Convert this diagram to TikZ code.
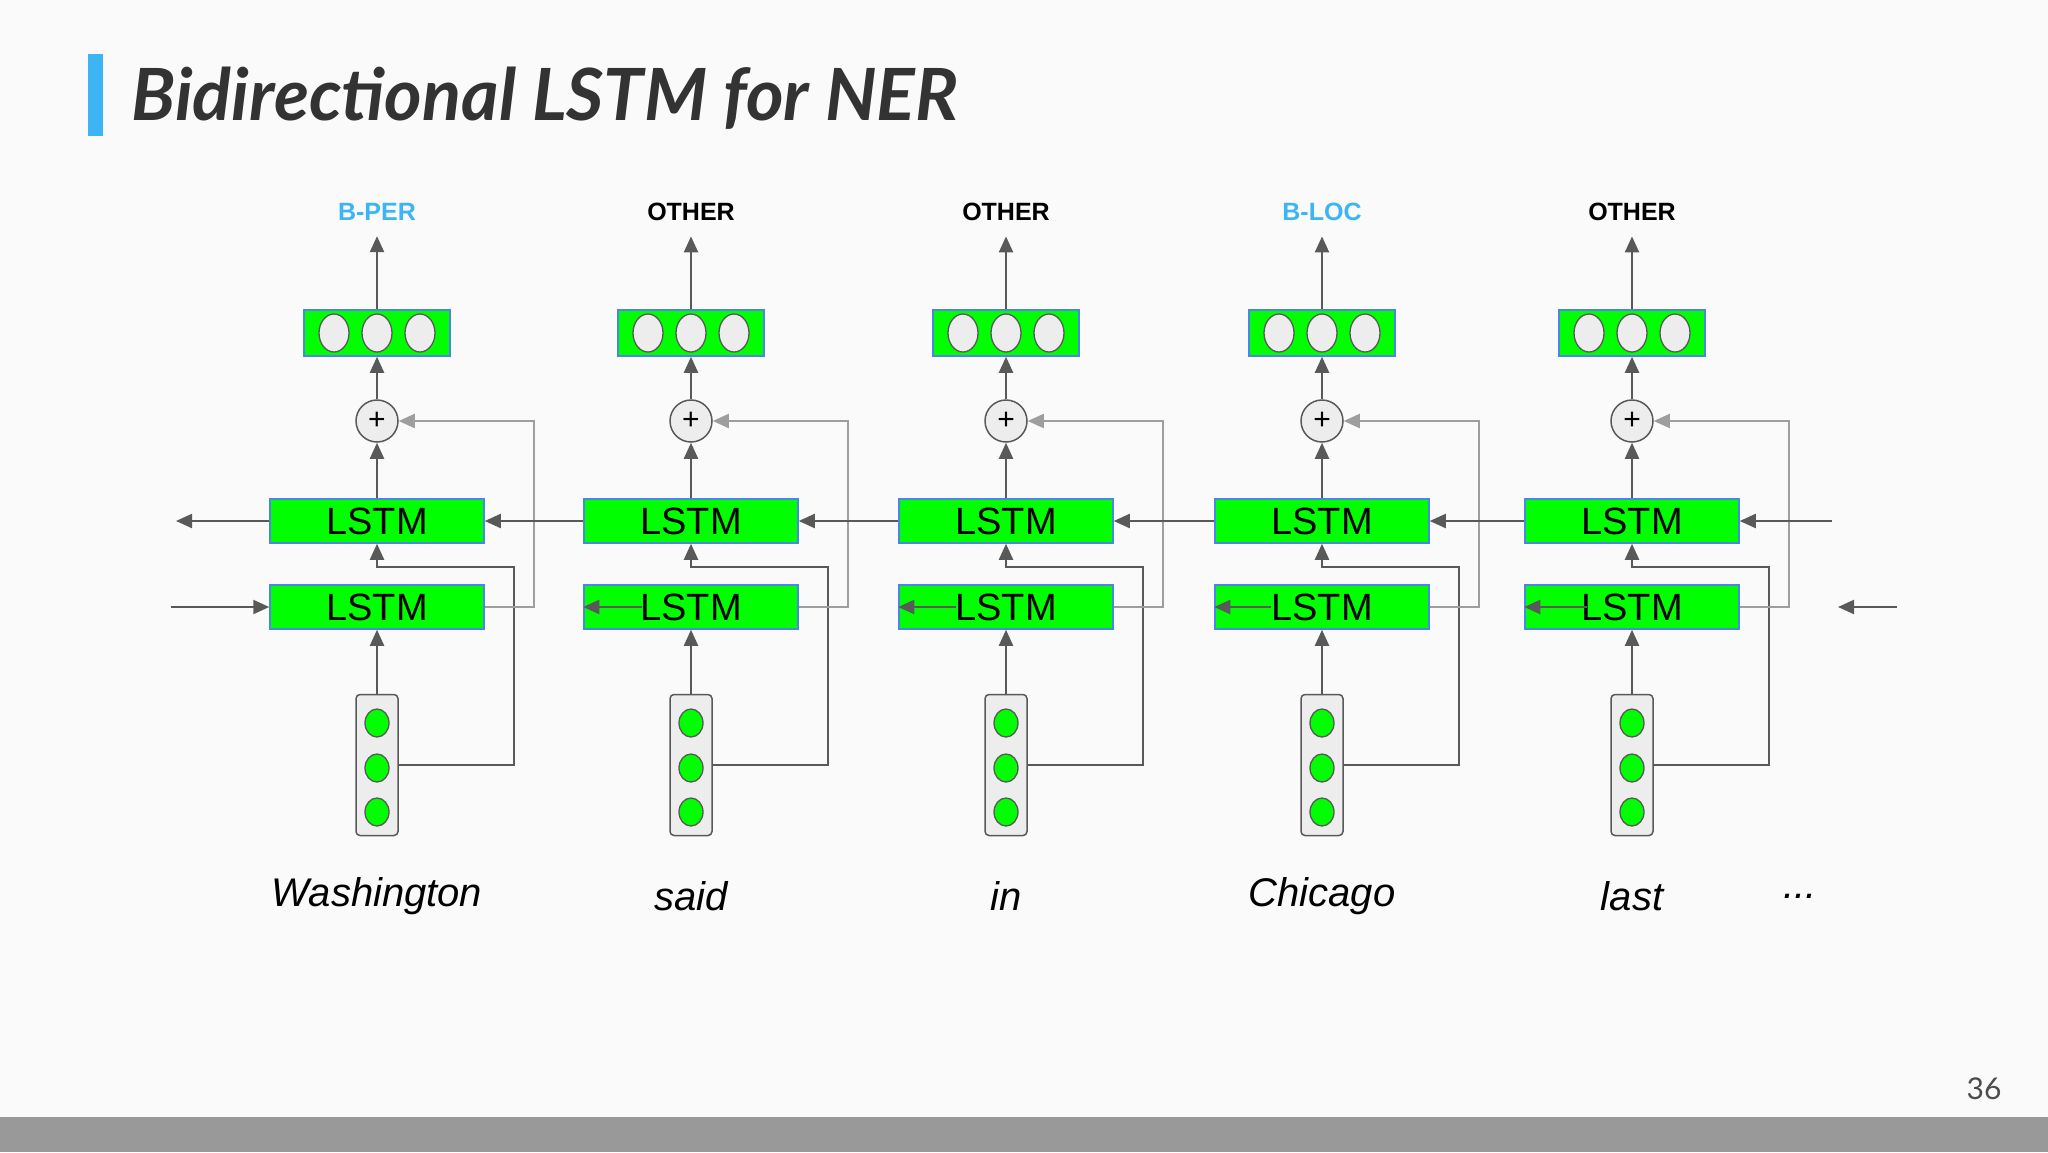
\documentclass[tikz,border=0pt]{standalone}
\usepackage{fontspec}
\setmainfont{Liberation Sans}
\newfontfamily\lato{Lato}
\usetikzlibrary{arrows.meta}
\definecolor{dk}{HTML}{595959}
\definecolor{lt}{HTML}{9E9E9E}
\definecolor{gr}{HTML}{00FF00}
\definecolor{bd}{HTML}{4A86E8}
\definecolor{bl}{HTML}{3DB5F5}
\begin{document}
\begin{tikzpicture}[x=1pt,y=-1pt,
 lstm/.style={draw=bd,line width=1.5pt,fill=gr,minimum width=214pt,minimum height=44pt,inner sep=0pt,font=\fontsize{38}{40}\selectfont},
 outb/.style={draw=bd,line width=1.5pt,fill=gr,minimum width=146pt,minimum height=46pt,inner sep=0pt},
 inb/.style={draw=dk,line width=1.5pt,fill=black!7,rounded corners=4pt,minimum width=42pt,minimum height=141pt,inner sep=0pt},
 cel/.style={draw=dk,line width=1.3pt,fill=black!7,ellipse,minimum width=30pt,minimum height=38pt,inner sep=0pt},
 gc/.style={draw=dk,line width=1.3pt,fill=gr,ellipse,minimum width=24pt,minimum height=28pt,inner sep=0pt},
 plus/.style={draw=dk,line width=1.5pt,fill=black!7,circle,minimum size=42pt,inner sep=0pt,font=\fontsize{30}{30}\selectfont},
 dar/.style={draw=dk,line width=2.2pt,-{Triangle[length=16pt,width=14pt]}},
 lar/.style={draw=lt,line width=2pt,-{Triangle[length=16pt,width=14pt]}},
 lab/.style={font=\bfseries\fontsize{25}{25}\selectfont},
 word/.style={font=\itshape\fontsize{40}{40}\selectfont}]
\usetikzlibrary{shapes.geometric}
\fill[black!2] (0,0) rectangle (2048,1152);
\fill[black!40] (0,1117) rectangle (2048,1152);
\fill[bl] (88,54) rectangle (103,136);
\node[anchor=west,font=\lato\bfseries\itshape\fontsize{72}{72}\selectfont,text=black!80] (title) at (128,98) {Bidirectional LSTM for NER};
\node[font=\lato\fontsize{30}{30}\selectfont,text=black!70] (pg) at (1984,1089) {36};
\foreach \i/\x/\l/\c/\w in {1/377/B-PER/bl/Washington,2/691/OTHER/black/said,3/1006/OTHER/black/in,4/1322/B-LOC/bl/Chicago,5/1632/OTHER/black/last}{
 \node[lab,text=\c] (l\i) at (\x,212) {\l};
 \node[outb] (o\i) at (\x,333) {};
 \node[cel] at (\x-43,333) {}; \node[cel] at (\x,333) {}; \node[cel] at (\x+43,333) {};
 \node[plus] (p\i) at (\x,421) {+};
 \node[lstm] (b\i) at (\x,521) {LSTM};
 \node[lstm] (f\i) at (\x,607) {LSTM};
 \node[inb] (v\i) at (\x,765) {};
 \node[gc] at (\x,723) {}; \node[gc] at (\x,768) {}; \node[gc] at (\x,812) {};
 \node[word] (w\i) at (\x,896) {\w};
 \draw[dar] (v\i.north) -- (f\i.south);
 \draw[dar] (b\i.north) -- (p\i.south);
 \draw[dar] (p\i.north) -- (o\i.south);
 \draw[dar] (o\i.north) -- ([yshift=-12pt]l\i.south);
 \draw[dar] (v\i.east) -| (\x+137,567) -| (b\i.south);
 \draw[lar] (f\i.east) -| (\x+157,421) -- (p\i.east);
}
\node[word] (dots) at (1800,896) {...};
\coordinate (lin) at (171,607); \coordinate (lout) at (176,521);
\coordinate (rin) at (1832,521); \coordinate (rout) at (1838,607);
\draw[dar] (lin) -- (f1.west);
\draw[dar] (b1.west) -- (lout);
\draw[dar] (rin) -- (b5.east);
\foreach \a/\b in {1/2,2/3,3/4,4/5}{
 \draw[dar] (b\b.west) -- (b\a.east);
 \draw[dar] ([xshift=157pt]f\a.center -| f\a.east) -- (f\b.west);
}
\draw[dar] ([xshift=157pt]f5.center -| f5.east) -- (rout);
\end{tikzpicture}
\end{document}
